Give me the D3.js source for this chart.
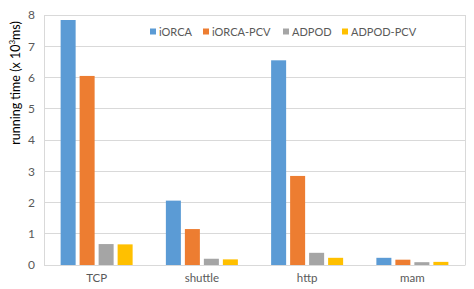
<!DOCTYPE html>
<html>
<head>
<meta charset="utf-8">
<script src="https://cdn.jsdelivr.net/npm/d3@7"></script>
<style>
  body { margin: 0; background: #fff; }
  svg { display: block; font-family: Lato, "Open Sans", sans-serif; }
</style>
</head>
<body>
<svg id="chart" width="474" height="289"></svg>
<script>
// benchmarks on the x axis
var categories = ["TCP", "shuttle", "http", "mam"];
var seriesNames = ["iORCA", "iORCA-PCV", "ADPOD", "ADPOD-PCV"];
var seriesColors = ["#5b9bd5", "#ed7d31", "#a5a5a5", "#ffc000"];

// running time, x 10^3 ms
var iorca = [7.84, 2.06, 6.55, 0.23];
var iorcaPcv = [6.05, 1.15, 2.85, 0.17];
var adpod = [0.67, 0.20, 0.39, 0.09];
var adpodPcv = [0.66, 0.18, 0.23, 0.10];

var yTicks = [0, 1, 2, 3, 4, 5, 6, 7, 8];

var values = [iorca, iorcaPcv, adpod, adpodPcv];

var svg = d3.select('#chart');
// plot area edges (note: "top" is taken by window.top)
var plotL = 44, plotR = 465, plotT = 15, plotB = 265;

var x0 = d3.scaleBand().domain(categories).range([plotL, plotR]);
var x1 = d3.scaleBand().domain(seriesNames).range([0, x0.bandwidth()])
    .paddingInner(0.21).paddingOuter(0.875);
var y = d3.scaleLinear().domain([0, 8]).range([plotB, plotT]);

// gridlines
svg.append('g').selectAll('line').data(yTicks).enter().append('line')
    .attr('x1', plotL).attr('x2', plotR)
    .attr('y1', function(d){ return y(d); })
    .attr('y2', function(d){ return y(d); })
    .attr('stroke', '#d9d9d9').attr('stroke-width', 1)
    .attr('shape-rendering', 'crispEdges');

// plot border sides
svg.append('line').attr('x1', plotL).attr('x2', plotL).attr('y1', plotT).attr('y2', plotB)
    .attr('stroke', '#d9d9d9').attr('shape-rendering', 'crispEdges');
svg.append('line').attr('x1', plotR).attr('x2', plotR).attr('y1', plotT).attr('y2', plotB)
    .attr('stroke', '#d9d9d9').attr('shape-rendering', 'crispEdges');

// y axis labels
var yAxis = d3.axisLeft(y).tickValues(yTicks).tickSize(0).tickPadding(9);
var ya = svg.append('g').attr('transform', 'translate(' + plotL + ',0)').call(yAxis);
ya.select('.domain').remove();
ya.selectAll('text').attr('fill', '#595959').style('font-size', '12px')
    .style('font-family', 'Lato, "Open Sans", sans-serif');

// bars
var groups = svg.append('g').selectAll('g').data(seriesNames).enter().append('g')
    .attr('fill', function(d, i){ return seriesColors[i]; });
groups.selectAll('rect')
    .data(function(d, i){ return values[i].map(function(v, j){ return {s: d, c: categories[j], v: v}; }); })
    .enter().append('rect')
    .attr('x', function(d){ return x0(d.c) + x1(d.s); })
    .attr('width', x1.bandwidth())
    .attr('y', function(d){ return y(d.v); })
    .attr('height', function(d){ return y(0) - y(d.v); });

// x axis
var xAxis = d3.axisBottom(x0).tickSize(0).tickPadding(9);
var xa = svg.append('g').attr('transform', 'translate(0,' + plotB + ')').call(xAxis);
xa.select('.domain').attr('stroke', '#d9d9d9');
xa.selectAll('text').attr('fill', '#595959').style('font-size', '11.5px')
    .style('font-family', 'Lato, "Open Sans", sans-serif');

// y title
svg.append('text')
    .attr('transform', 'translate(20,83) rotate(-90)')
    .attr('text-anchor', 'middle')
    .style('font-size', '12.5px').attr('fill', '#000')
    .html('running time (x 10<tspan dy="-5" font-size="8">3</tspan><tspan dy="5">ms)</tspan>');

// legend
var legendX = [150, 203, 283, 342];
var lg = svg.append('g').selectAll('g').data(seriesNames).enter().append('g')
    .attr('transform', function(d, i){ return 'translate(' + legendX[i] + ',32)'; });
lg.append('rect').attr('x', 0).attr('y', -3.5).attr('width', 6).attr('height', 6)
    .attr('fill', function(d, i){ return seriesColors[i]; });
lg.append('text').attr('x', 9).attr('dy', '0.35em')
    .attr('fill', '#595959').style('font-size', '11px')
    .text(function(d){ return d; });
</script>
</body>
</html>
